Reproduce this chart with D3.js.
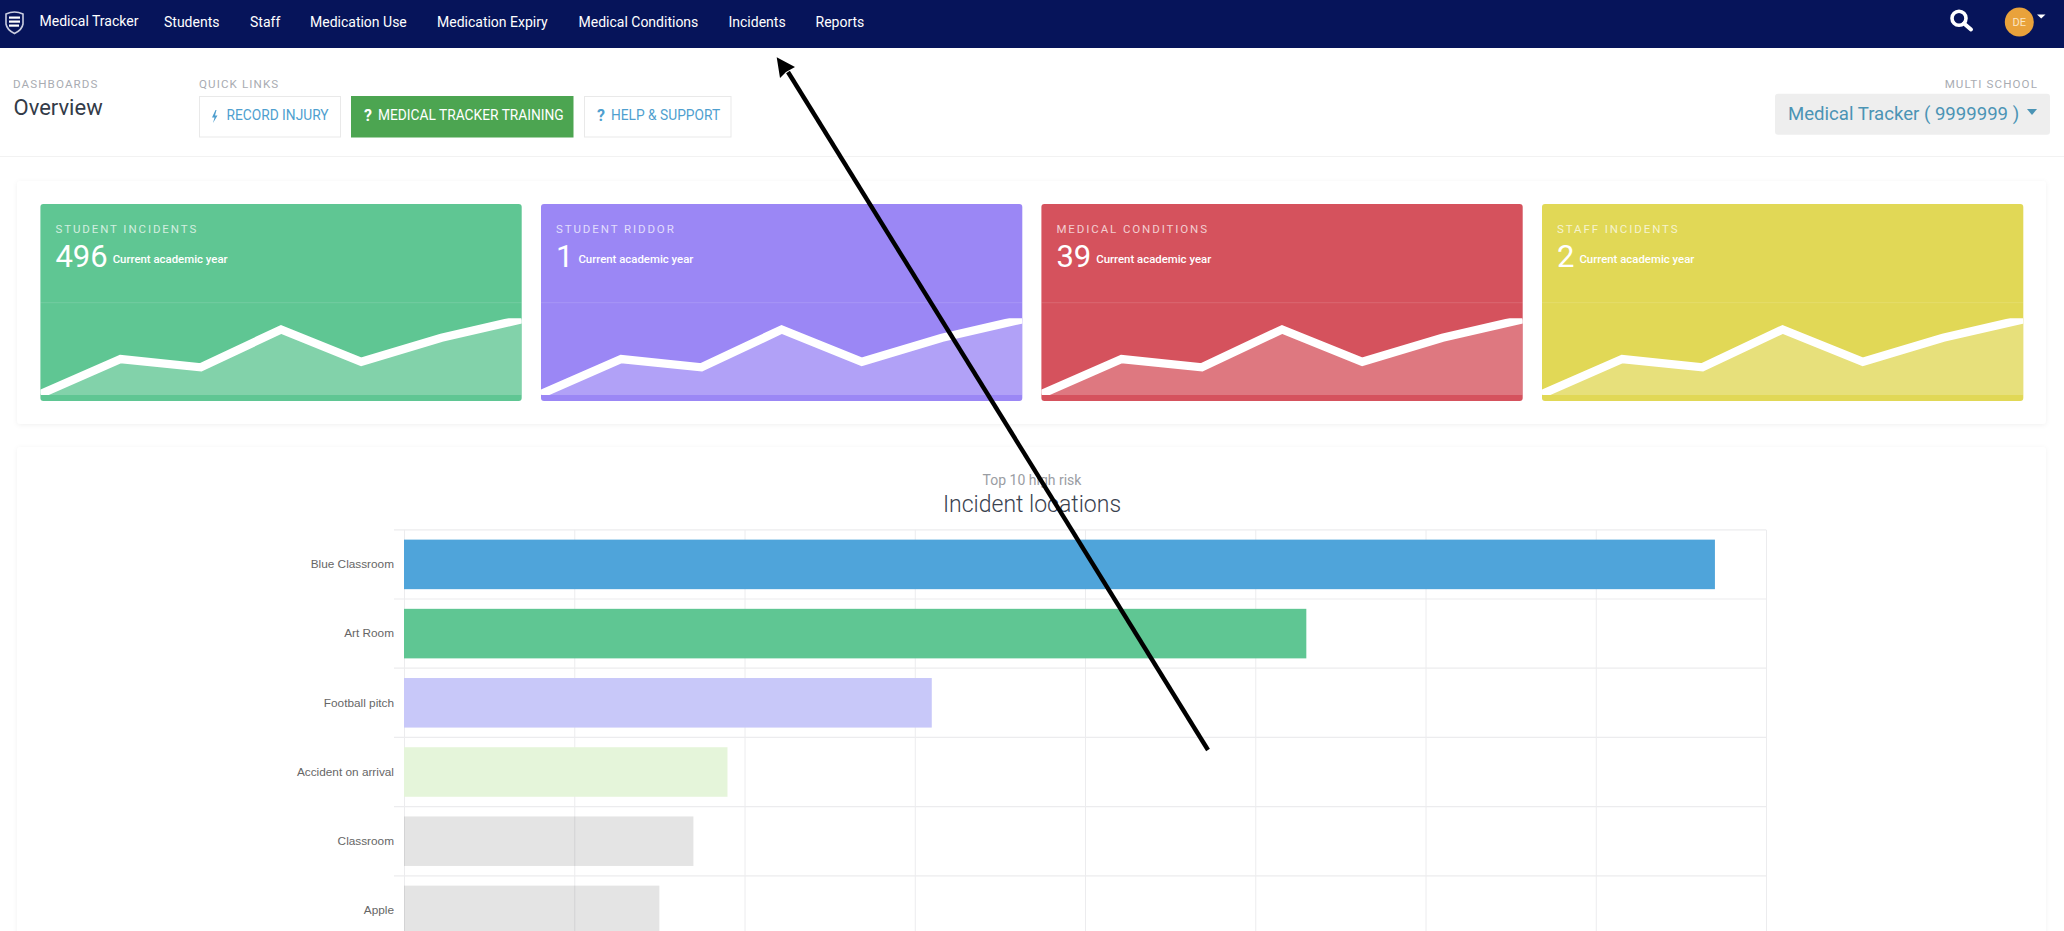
<!DOCTYPE html>
<html lang="en">
  <head>
    <meta charset="UTF-8" />
    <title>Medical Tracker Overview</title>
    <script src="https://cdnjs.cloudflare.com/ajax/libs/d3/7.8.5/d3.min.js"></script>
    <style>
      html,
      body {
        margin: 0;
        padding: 0;
        overflow: hidden;
        background: #fff;
      }
      svg {
        display: block;
      }
      text {
        font-family: Roboto, sans-serif;
      }
    </style>
  </head>
  <body>
    <div id="page"></div>

    <script>
      // Nav bar
      const navLabels = ["Students", "Staff", "Medication Use", "Medication Expiry", "Medical Conditions", "Incidents", "Reports"];
      const navStarts = [164, 250, 310, 437, 578.5, 728.5, 815.5];

      // Stat tiles
      const tileTitles = ["STUDENT INCIDENTS", "STUDENT RIDDOR", "MEDICAL CONDITIONS", "STAFF INCIDENTS"];
      const tileValues = [496, 1, 39, 2];
      const tileColors = ["#5fc693", "#9b87f5", "#d5525d", "#e1d856"];
      const sparkValues = [1, 39, 30, 71, 36, 62, 82];

      // Bar chart
      const locations = ["Blue Classroom", "Art Room", "Football pitch", "Accident on arrival", "Classroom", "Apple"];
      const incidentCounts = [77, 53, 31, 19, 17, 15];
      const barColors = ["#4fa4da", "#5fc693", "#c8c8f9", "#e5f5da", "rgba(0,0,0,0.105)", "rgba(0,0,0,0.105)"];
      const countTicks = [0, 10, 20, 30, 40, 50, 60, 70, 80];

      const width = 2064;
      const height = 931;

      const svg = d3
        .select("#page")
        .append("svg")
        .attr("width", width)
        .attr("height", height);

      const defs = svg.append("defs");
      const shadow = defs
        .append("filter")
        .attr("id", "soft")
        .attr("x", "-2%")
        .attr("y", "-5%")
        .attr("width", "104%")
        .attr("height", "110%");
      shadow
        .append("feDropShadow")
        .attr("dx", 0)
        .attr("dy", 1)
        .attr("stdDeviation", 2.5)
        .attr("flood-color", "#000")
        .attr("flood-opacity", 0.06);

      // Little helper for text
      function label(parent, x, y, str, size, color, opts = {}) {
        return parent
          .append("text")
          .attr("x", x)
          .attr("y", y)
          .attr("dy", "0.35em")
          .attr("font-size", size)
          .attr("fill", color)
          .attr("font-weight", opts.weight || 400)
          .attr("letter-spacing", opts.spacing || 0)
          .attr("text-anchor", opts.anchor || "start")
          .text(str);
      }

      // ---- Nav ----
      svg.append("rect").attr("width", width).attr("height", 48).attr("fill", "#06145a");
      const shield = svg.append("g");
      shield
        .append("path")
        .attr("d", "M6 14 Q14.5 10 23 14 L23 24 Q22 30 14.5 33.5 Q7 30 6 24 Z")
        .attr("fill", "none")
        .attr("stroke", "#c9cde0")
        .attr("stroke-width", 1.6);
      [16.5, 20.5, 24.5].forEach((y, i) => {
        shield
          .append("rect")
          .attr("x", 9)
          .attr("y", y)
          .attr("width", 11 - (i === 2 ? 1 : 0))
          .attr("height", 2.2)
          .attr("fill", "#fff");
      });
      label(svg, 39.5, 21, "Medical Tracker", 14, "#fff");
      svg
        .selectAll(".nav")
        .data(navLabels)
        .enter()
        .append("text")
        .attr("class", "nav")
        .attr("x", (d, i) => navStarts[i])
        .attr("y", 22)
        .attr("dy", "0.35em")
        .attr("font-size", 14)
        .attr("fill", "#fff")
        .text((d) => d);

      // search + avatar
      svg
        .append("circle")
        .attr("cx", 1959)
        .attr("cy", 18.3)
        .attr("r", 7)
        .attr("fill", "none")
        .attr("stroke", "#fff")
        .attr("stroke-width", 3.6);
      svg
        .append("line")
        .attr("x1", 1964)
        .attr("y1", 23.5)
        .attr("x2", 1971)
        .attr("y2", 29.5)
        .attr("stroke", "#fff")
        .attr("stroke-width", 4)
        .attr("stroke-linecap", "round");
      svg.append("circle").attr("cx", 2019.3).attr("cy", 22).attr("r", 14.5).attr("fill", "#e9a23b");
      label(svg, 2019.3, 22, "DE", 11, "#fbe6c4", { anchor: "middle" });
      svg.append("path").attr("d", "M2037 14.5 L2045.5 14.5 L2041.2 18.5 Z").attr("fill", "#fff");

      // ---- Header strip ----
      label(svg, 13, 84, "DASHBOARDS", 11.6, "#a9acb2", { spacing: 1.1 });
      label(svg, 13.5, 107.5, "Overview", 22, "#333b48");
      label(svg, 199, 84, "QUICK LINKS", 11.6, "#a9acb2", { spacing: 1.1 });

      const buttons = [
        { x: 199, w: 142, icon: "\u26A1", text: "RECORD INJURY", fill: "#fff", color: "#4f9fcf" },
        { x: 351, w: 222.5, icon: "?", text: "MEDICAL TRACKER TRAINING", fill: "#4ca551", color: "#fff" },
        { x: 584, w: 147.5, icon: "?", text: "HELP & SUPPORT", fill: "#fff", color: "#4f9fcf" },
      ];
      buttons.forEach((b, i) => {
        svg
          .append("rect")
          .attr("x", b.x + 0.5)
          .attr("y", 96.5)
          .attr("width", b.w - 1)
          .attr("height", 40.5)
          .attr("fill", b.fill)
          .attr("stroke", b.fill === "#fff" ? "#e9e9e9" : b.fill);
        if (i === 0) {
          svg
            .append("path")
            .attr("d", `M${b.x + 16.5} 110 L${b.x + 13} 117.5 L${b.x + 15.5} 117.5 L${b.x + 14} 123 L${b.x + 18.5} 115.5 L${b.x + 16} 115.5 L${b.x + 17.5} 110 Z`)
            .attr("fill", b.color);
        } else {
          label(svg, b.x + 13, 115.5, b.icon, 16, b.color, { weight: 700 });
        }
        label(svg, b.x + (i === 0 ? 27.5 : 27), 115.5, b.text, 13.75, b.color);
      });

      label(svg, 2038, 84, "MULTI SCHOOL", 11.6, "#a9acb2", { anchor: "end", spacing: 1.1 });
      svg
        .append("rect")
        .attr("x", 1775)
        .attr("y", 93.7)
        .attr("width", 275)
        .attr("height", 41)
        .attr("rx", 3)
        .attr("fill", "#eeeeee");
      label(svg, 1788, 113.5, "Medical Tracker ( 9999999 )", 18.6, "#4b94b5");
      svg.append("path").attr("d", "M2027 109 L2037 109 L2032 115 Z").attr("fill", "#4b94b5");
      svg.append("line").attr("x1", 0).attr("x2", width).attr("y1", 156.5).attr("y2", 156.5).attr("stroke", "#f2f2f2");

      // ---- Panels ----
      svg
        .append("rect")
        .attr("x", 17)
        .attr("y", 181)
        .attr("width", 2029)
        .attr("height", 243)
        .attr("rx", 4)
        .attr("fill", "#fff")
        .attr("filter", "url(#soft)");
      svg
        .append("rect")
        .attr("x", 17)
        .attr("y", 447)
        .attr("width", 2029)
        .attr("height", 600)
        .attr("rx", 4)
        .attr("fill", "#fff")
        .attr("filter", "url(#soft)");

      // ---- Tiles ----
      const tileLefts = [40.4, 541, 1041.4, 1542];
      const tileW = 481.3;
      const tileTop = 204;
      const tileBottom = 401;
      const sparkBase = 395;
      const sparkTop = 302.7;
      const sparkClipTop = 318.3;

      const sparkX = d3.scaleLinear().domain([0, sparkValues.length - 1]).range([0, tileW]);
      const sparkY = d3.scaleLinear().domain([0, 100]).range([sparkBase, sparkTop]);
      const sparkLine = d3.line().x((d, i) => sparkX(i)).y((d) => sparkY(d));
      const sparkArea = d3.area().x((d, i) => sparkX(i)).y0(sparkBase).y1((d) => sparkY(d));

      tileTitles.forEach((title, i) => {
        const g = svg.append("g").attr("transform", `translate(${tileLefts[i]},0)`);
        g.append("rect")
          .attr("y", tileTop)
          .attr("width", tileW)
          .attr("height", tileBottom - tileTop)
          .attr("rx", 3)
          .attr("fill", tileColors[i]);
        g.append("line")
          .attr("x1", 0)
          .attr("x2", tileW)
          .attr("y1", sparkTop)
          .attr("y2", sparkTop)
          .attr("stroke", "#fff")
          .attr("stroke-opacity", 0.1)
          .attr("stroke-width", 1.2);
        defs
          .append("clipPath")
          .attr("id", `spark-clip-${i}`)
          .append("rect")
          .attr("x", tileLefts[i])
          .attr("y", sparkClipTop)
          .attr("width", tileW)
          .attr("height", sparkBase - sparkClipTop);
        const spark = svg.append("g").attr("clip-path", `url(#spark-clip-${i})`)
          .append("g").attr("transform", `translate(${tileLefts[i]},0)`);
        spark.append("path").attr("d", sparkArea(sparkValues)).attr("fill", "#fff").attr("fill-opacity", 0.22);
        spark
          .append("path")
          .attr("d", sparkLine(sparkValues))
          .attr("fill", "none")
          .attr("stroke", "#fff")
          .attr("stroke-width", 8.4)
          .attr("stroke-linejoin", "miter");

        label(g, 15, 229, title, 11.5, "#fff", { spacing: 1.9 }).attr("fill-opacity", 0.72);
        const big = label(g, 15, 256, tileValues[i], 31, "#fff");
        const bigW = big.node().getComputedTextLength();
        label(g, 15 + bigW + 5, 259, "Current academic year", 11.4, "#fff", { weight: 500 });
      });

      // ---- Bar chart ----
      label(svg, 1032, 480, "Top 10 high risk", 14, "#9a9da3", { anchor: "middle" });
      label(svg, 1032, 503.5, "Incident locations", 23, "#3a4250", { anchor: "middle", weight: 300 });

      const x = d3.scaleLinear().domain([0, 80]).range([404, 1766]);
      const rowStep = 69.2;
      const y = d3
        .scaleBand()
        .domain(locations)
        .range([529.8, 529.8 + rowStep * locations.length])
        .paddingInner(0.284)
        .paddingOuter(0.142);

      // grid from the axes
      const xGrid = svg
        .append("g")
        .attr("transform", `translate(0,${y.range()[1]})`)
        .call(d3.axisBottom(x).tickValues(countTicks).tickSize(-(y.range()[1] - y.range()[0])).tickFormat(""));
      xGrid.select(".domain").remove();
      xGrid.selectAll("line").attr("stroke", "#ececee");

      const rowLines = d3.range(locations.length + 1).map((i) => y.range()[0] + i * rowStep);
      svg
        .append("g")
        .selectAll("line")
        .data(rowLines)
        .enter()
        .append("line")
        .attr("x1", 394)
        .attr("x2", 1766)
        .attr("y1", (d) => d)
        .attr("y2", (d) => d)
        .attr("stroke", "#ececee")
        .attr("stroke-width", 1.2);

      svg
        .append("g")
        .selectAll("rect")
        .data(locations)
        .enter()
        .append("rect")
        .attr("x", x(0))
        .attr("y", (d) => y(d))
        .attr("width", (d, i) => x(incidentCounts[i]) - x(0))
        .attr("height", y.bandwidth())
        .attr("fill", (d, i) => barColors[i]);

      const yAxis = svg
        .append("g")
        .attr("transform", "translate(404,0)")
        .call(d3.axisLeft(y).tickSize(0).tickPadding(10));
      yAxis.select(".domain").remove();
      yAxis
        .selectAll("text")
        .attr("font-size", 11.8)
        .attr("fill", "#666")
        .style("font-family", "'Liberation Sans', Arial, sans-serif");

      // ---- Annotation arrow ----
      svg
        .append("line")
        .attr("x1", 1208)
        .attr("y1", 750)
        .attr("x2", 788)
        .attr("y2", 72)
        .attr("stroke", "#000")
        .attr("stroke-width", 4.4);
      svg
        .append("path")
        .attr("d", "M776.7 57.3 L795 67 L786 72 L780 78 Z")
        .attr("fill", "#000");
    </script>
  </body>
</html>
